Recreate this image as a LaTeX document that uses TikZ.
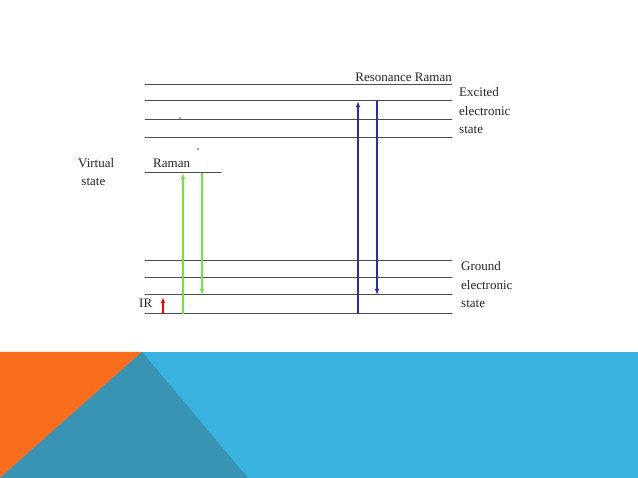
\documentclass[tikz,border=0pt]{standalone}
\usepackage{fontspec}
\setmainfont{Liberation Serif}
\usetikzlibrary{arrows.meta}
\definecolor{bandblue}{RGB}{58,178,223}
\definecolor{bandorange}{RGB}{249,109,29}
\definecolor{bandteal}{RGB}{57,148,180}
\definecolor{lgreen}{RGB}{110,230,60}
\definecolor{dblue}{RGB}{40,40,200}
\begin{document}
\begin{tikzpicture}[x=1pt,y=-1pt,
  lvl/.style={draw=black!70,line width=1pt},
  txt/.style={font=\fontsize{13}{18.5}\selectfont,inner sep=0pt,anchor=west,align=left,text=black!85},
  arr/.style={line width=1.3pt,-{Latex[length=6pt,width=4.5pt]}}]
\useasboundingbox (0,0) rectangle (638,478);
\fill[white] (0,0) rectangle (638,478);
\fill[bandblue] (0,352) rectangle (638,478);
\fill[bandorange] (0,352) -- (142,352) -- (0,478) -- cycle;
\fill[bandteal] (142,352) -- (248,478) -- (0,478) -- cycle;
\foreach \y in {85,101,120,138,261,278,295,314} \draw[lvl] (145,\y) -- (452,\y);
\draw[lvl] (145,173) -- (221,173);
\coordinate (gu) at (183,314); \coordinate (vu) at (183,173);
\coordinate (vd) at (202,173); \coordinate (gd) at (202,295);
\coordinate (ir0) at (163,314); \coordinate (ir1) at (163,297);
\coordinate (bu0) at (358,314); \coordinate (bu1) at (358,101);
\coordinate (bd0) at (377,101); \coordinate (bd1) at (377,295);
\draw[arr,lgreen] (gu) -- (vu);
\draw[arr,lgreen] (vd) -- (gd);
\draw[arr,red] (ir0) -- (ir1);
\draw[arr,dblue] (bu0) -- (bu1);
\draw[arr,dblue] (bd0) -- (bd1);
\fill[black!70] (180,118) circle (0.9);
\fill[black!70] (198,149) circle (0.9);
\node[txt,anchor=east] (rr) at (452,77) {Resonance Raman};
\node[txt] (ex) at (459,111) {Excited\\electronic\\state};
\node[txt] (vs) at (78,172) {Virtual\\\ state};
\node[txt] (rm) at (153,163) {Raman};
\node[txt] (gr) at (461,285) {Ground\\electronic\\state};
\node[txt] (ir) at (139,303) {IR};
\end{tikzpicture}
\end{document}
